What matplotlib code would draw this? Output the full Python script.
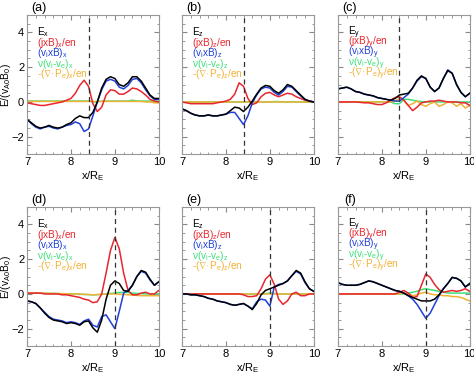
import numpy as np
import matplotlib
matplotlib.use("Agg")
import matplotlib.pyplot as plt
from matplotlib.ticker import MultipleLocator

plt.rcParams["font.family"] = ["Liberation Sans", "DejaVu Sans"]
plt.rcParams["mathtext.default"] = "regular"

# ── Data ──────────────────────────────────────────────────────────────────────
x = np.round(np.arange(7.0, 10.0001, 0.1), 2)   # x/R_E sample positions

# panel (a): x-component, dashed line at 8.4
a_E    = [-1.0, -1.2, -1.4, -1.5, -1.45, -1.35, -1.45, -1.5, -1.45, -1.3, -1.2, -0.95, -0.8, -0.9, -0.9, -0.6,
          0.0, 0.8, 1.3, 1.45, 1.35, 1.0, 0.9, 1.1, 1.45, 1.45, 1.2, 0.8, 0.4, 0.2, 0.2]
a_jxB  = [-0.05, -0.1, -0.15, -0.2, -0.2, -0.15, -0.1, -0.05, 0.0, 0.1, 0.2, 0.5, 0.95, 1.25, 0.9, -0.1,
          -0.55, -0.3, 0.4, 0.7, 0.65, 0.45, 0.45, 0.6, 0.8, 0.75, 0.6, 0.4, 0.15, 0.05, 0.0]
a_vxB  = [-1.0, -1.25, -1.45, -1.55, -1.45, -1.4, -1.5, -1.55, -1.45, -1.35, -1.3, -1.15, -1.25, -1.7, -1.55, -0.8,
          0.0, 0.7, 1.2, 1.3, 1.2, 0.85, 0.75, 0.95, 1.3, 1.35, 1.1, 0.7, 0.35, 0.15, 0.15]
a_nu   = [0.05, 0.05, 0.05, 0.05, 0.05, 0.05, 0.05, 0.05, 0.05, 0.05, 0.05, 0.05, 0.05, 0.05, 0.05, 0.0,
          0.0, 0.05, 0.05, 0.05, 0.05, 0.05, 0.05, 0.05, 0.1, 0.05, 0.05, 0.05, 0.05, 0.05, 0.05]
a_divP = [0.03, 0.03, 0.03, 0.03, 0.03, 0.03, 0.03, 0.03, 0.03, 0.03, 0.03, 0.03, 0.03, 0.03, 0.03, 0.03,
          0.03, 0.03, 0.03, 0.03, 0.03, 0.03, 0.03, 0.03, 0.03, 0.03, 0.03, 0.0, 0.0, -0.05, -0.05]

# panel (b): z-component, dashed line at 8.4
b_E    = [-0.4, -0.5, -0.65, -0.75, -0.8, -0.8, -0.75, -0.8, -0.8, -0.75, -0.7, -0.5, -0.3, -0.35, -0.55, -0.3,
          0.05, 0.45, 0.8, 0.95, 0.9, 0.65, 0.5, 0.7, 1.0, 0.9, 0.65, 0.4, 0.15, 0.05, 0.0]
b_jxB  = [0.0, -0.05, -0.1, -0.1, -0.1, -0.1, -0.1, -0.1, -0.05, 0.0, 0.05, 0.15, 0.45, 1.1, 0.9, 0.2,
          -0.15, -0.05, 0.3, 0.5, 0.55, 0.4, 0.3, 0.4, 0.5, 0.45, 0.3, 0.2, 0.1, 0.05, 0.0]
b_vxB  = [-0.4, -0.5, -0.65, -0.75, -0.8, -0.8, -0.75, -0.8, -0.8, -0.75, -0.7, -0.6, -0.6, -0.95, -1.3, -0.8,
          -0.05, 0.4, 0.75, 0.85, 0.8, 0.55, 0.4, 0.6, 0.9, 0.85, 0.6, 0.35, 0.15, 0.05, 0.0]
b_nu   = [0.0] * 16 + [0.02, 0.02, 0.0, 0.0, 0.0, 0.02, 0.02, 0.0, 0.0, 0.0, 0.0, 0.0, 0.0, 0.0, 0.0]
b_divP = [0.02] * 31

# panel (c): y-component, dashed line at 8.4
c_E    = [0.75, 0.8, 0.85, 0.75, 0.6, 0.55, 0.45, 0.4, 0.35, 0.25, 0.2, 0.15, 0.1, 0.2, 0.4, 0.45,
          0.5, 0.8, 1.25, 1.5, 1.35, 0.85, 0.6, 0.8, 1.35, 1.8, 1.65, 1.0, 0.55, 0.3, 0.5]
c_jxB  = [0.0, 0.0, 0.0, 0.0, 0.0, -0.02, -0.05, -0.05, -0.1, -0.15, -0.15, -0.05, 0.1, 0.25, 0.3, 0.1,
          -0.2, -0.5, -0.3, -0.05, 0.0, 0.05, 0.05, 0.1, 0.05, 0.0, 0.0, 0.0, -0.05, -0.05, -0.2]
c_vxB  = [0.75, 0.8, 0.85, 0.75, 0.6, 0.55, 0.45, 0.4, 0.35, 0.25, 0.2, 0.15, 0.1, 0.05, 0.05, 0.25,
          0.45, 0.8, 1.2, 1.45, 1.35, 0.85, 0.6, 0.8, 1.35, 1.85, 1.65, 1.0, 0.55, 0.3, 0.5]
c_nu   = [0.0] * 12 + [0.0, -0.1, -0.1, 0.15, 0.15, 0.1, 0.05, 0.02, 0.0, 0.0, 0.0, 0.0, 0.0, 0.0, 0.0, 0.0, 0.0, 0.0, 0.0]
c_divP = [0.0] * 13 + [0.05, 0.2, 0.1, -0.2, -0.1, 0.05, -0.15, -0.25, -0.1, 0.0, -0.25, -0.15, 0.0, -0.05,
                       -0.25, -0.1, -0.35, -0.2]

# panel (d): x-component, dashed line at 9.0
d_E    = [-0.4, -0.45, -0.55, -0.8, -1.1, -1.35, -1.5, -1.55, -1.6, -1.7, -1.65, -1.7, -1.8, -1.6, -1.55, -1.95,
          -2.2, -1.5, -0.3, 0.5, 0.75, 0.6, 0.2, 0.15, 0.5, 1.0, 1.35, 1.25, 0.85, 0.5, 0.7]
d_jxB  = [0.05, 0.05, 0.05, 0.05, 0.0, 0.0, 0.0, 0.0, -0.05, -0.05, -0.1, -0.15, -0.2, -0.3, -0.35, -0.5,
          -0.45, 0.0, 1.2, 2.5, 3.25, 2.6, 1.2, 0.2, -0.05, -0.05, 0.05, 0.1, 0.0, 0.0, 0.2]
d_vxB  = [-0.4, -0.45, -0.55, -0.8, -1.05, -1.3, -1.45, -1.5, -1.55, -1.65, -1.6, -1.65, -1.75, -1.55, -1.45, -1.8,
          -1.9, -1.3, -1.2, -1.6, -2.0, -1.0, 0.05, 0.2, 0.5, 1.0, 1.3, 1.2, 0.8, 0.5, 0.7]
d_nu   = [0.05, 0.05, 0.05, 0.04, 0.04, 0.03, 0.03, 0.02, 0.01, 0.0, 0.0, 0.0, -0.02, -0.03, -0.04, -0.05,
          -0.04, -0.02, 0.0, 0.03, 0.05, 0.08, 0.1, 0.08, 0.05, 0.03, 0.02, 0.0, 0.0, 0.0, 0.0]
d_divP = [0.05, 0.05, 0.05, 0.05, 0.04, 0.03, 0.03, 0.02, 0.02, 0.01, 0.0, 0.0, 0.0, -0.02, -0.03, -0.05,
          -0.04, -0.02, 0.0, 0.0, 0.0, -0.02, -0.03, -0.05, -0.06, -0.08, -0.1, -0.1, -0.1, -0.1, -0.1]

# panel (e): z-component, dashed line at 9.0
e_E    = [0.0, 0.0, -0.05, -0.05, -0.1, -0.15, -0.25, -0.3, -0.4, -0.45, -0.5, -0.6, -0.65, -0.6, -0.55, -0.7,
          -0.9, -0.55, -0.05, 0.2, 0.3, 0.4, 0.5, 0.6, 0.75, 1.05, 1.35, 1.2, 0.7, 0.3, 0.15]
e_jxB  = [0.0] * 14 + [-0.05, -0.15, -0.15, -0.1, 0.3, 0.85, 1.1, 0.55, -0.3, -0.6, -0.4, 0.0, 0.1, -0.1, -0.1,
                       0.0, 0.0]
e_vxB  = [0.0, 0.0, -0.05, -0.05, -0.1, -0.15, -0.25, -0.3, -0.4, -0.45, -0.5, -0.6, -0.65, -0.6, -0.55, -0.7,
          -0.85, -0.45, -0.3, -0.35, -0.7, 0.4, 0.55, 0.6, 0.75, 1.05, 1.3, 1.15, 0.65, 0.3, 0.15]
e_nu   = [0.0] * 19 + [0.02, 0.05, 0.03, 0.0, 0.0, 0.0, 0.0, 0.0, 0.0, 0.0, 0.0, 0.0]
e_divP = [0.02] * 31

# panel (f): y-component, dashed line at 9.0
f_E    = [0.65, 0.55, 0.5, 0.5, 0.5, 0.55, 0.65, 0.75, 0.7, 0.6, 0.5, 0.4, 0.3, 0.2, 0.15, 0.05,
          -0.1, -0.2, -0.3, -0.4, -0.4, -0.4, -0.3, -0.05, 0.3, 0.6, 0.95, 0.9, 0.75, 0.4, 0.6]
f_jxB  = [0.0] * 14 + [0.1, 0.2, 0.05, -0.2, -0.15, 0.5, 1.15, 0.95, 0.55, 0.25, 0.1, 0.15, 0.2, 0.15, 0.2, 0.3,
                       0.15]
f_vxB  = [0.65, 0.55, 0.5, 0.5, 0.5, 0.55, 0.65, 0.75, 0.7, 0.6, 0.5, 0.4, 0.3, 0.2, 0.15, 0.05,
          -0.1, -0.3, -0.6, -1.0, -1.4, -1.1, -0.6, -0.1, 0.3, 0.6, 0.95, 0.9, 0.75, 0.4, 0.6]
f_nu   = [0.0] * 16 + [0.05, 0.1, 0.15, 0.25, 0.3, 0.25, 0.2, 0.15, 0.1, 0.05, 0.05, 0.05, 0.05, 0.05, 0.05]
f_divP = [0.0] * 15 + [0.05, 0.0, -0.1, -0.05, 0.05, 0.1, 0.0, -0.05, -0.05, -0.1, -0.1, -0.15, -0.15, -0.2,
                       -0.3, -0.4]

panels = [
    ("(a)", "x", 8.4, a_E, a_jxB, a_vxB, a_nu, a_divP),
    ("(b)", "z", 8.4, b_E, b_jxB, b_vxB, b_nu, b_divP),
    ("(c)", "y", 8.4, c_E, c_jxB, c_vxB, c_nu, c_divP),
    ("(d)", "x", 9.0, d_E, d_jxB, d_vxB, d_nu, d_divP),
    ("(e)", "z", 9.0, e_E, e_jxB, e_vxB, e_nu, e_divP),
    ("(f)", "y", 9.0, f_E, f_jxB, f_vxB, f_nu, f_divP),
]

colors = ["black", "#e8262e", "#2040d8", "#3ee07a", "#f2b134"]
draw_order = [3, 4, 1, 2, 0]   # green, orange, red, blue, black on top

# ── Plot ──────────────────────────────────────────────────────────────────────
fig = plt.figure(figsize=(4.74, 3.75), dpi=100)
lefts   = [0.057, 0.384, 0.713]
bottoms = [0.589, 0.077]
w, h = 0.278, 0.371

for k, (tag, comp, xline, E, jxB, vxB, nu, divP) in enumerate(panels):
    row, col = divmod(k, 3)
    ax = fig.add_axes([lefts[col], bottoms[row], w, h])
    series = [E, jxB, vxB, nu, divP]
    for i in draw_order:
        ax.plot(x, series[i], color=colors[i], lw=1.1)
    ax.axvline(xline, color="#333333", ls=(0, (4, 3)), lw=0.9)

    labels = [f"E$_{comp}$", f"(jxB)$_{comp}$/en", f"(v$_i$xB)$_{comp}$",
              f"ν(v$_i$-v$_e$)$_{comp}$", f"-($\\nabla$·P$_e$)$_{comp}$/en"]
    for i, lab in enumerate(labels):
        ax.text(0.075, 0.875 - i * 0.075, lab, transform=ax.transAxes,
                color=colors[i], fontsize=7.2, va="center", ha="left")

    ax.set_xlim(7, 10)
    ax.set_ylim(-3, 5)
    ax.xaxis.set_major_locator(MultipleLocator(1))
    ax.xaxis.set_minor_locator(MultipleLocator(0.2))
    ax.yaxis.set_major_locator(MultipleLocator(2))
    ax.yaxis.set_minor_locator(MultipleLocator(0.5))
    ax.tick_params(which="both", direction="in", top=True, right=True,
                   labelsize=8, color="#888888", pad=2)
    ax.tick_params(which="major", length=3.5)
    ax.tick_params(which="minor", length=1.8)
    for s in ax.spines.values():
        s.set_color("#999999")
        s.set_linewidth(0.8)
    ax.set_xlabel("x/R$_E$", fontsize=8, labelpad=2)
    if col == 0:
        ax.set_ylabel("E/(v$_{A0}$B$_0$)", fontsize=7.5)
        ax.yaxis.set_label_coords(-0.105, 0.5)
    else:
        ax.set_yticklabels([])
    ax.text(0.09, 1.05, tag, transform=ax.transAxes,
            fontsize=9, ha="center", va="center")

fig.savefig("out.png", dpi=100)
